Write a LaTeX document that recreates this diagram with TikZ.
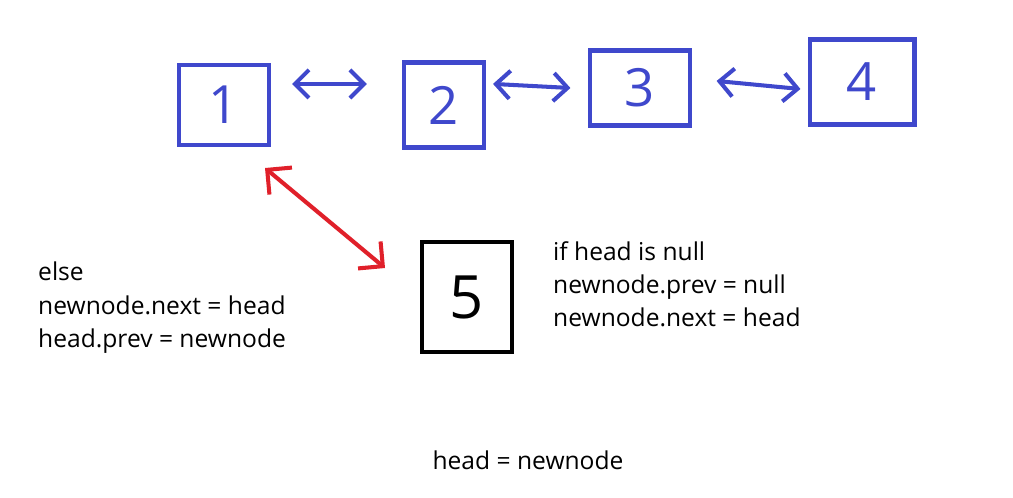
\documentclass[tikz,border=0pt]{standalone}
\usepackage{fontspec}
\setmainfont{Open Sans}
\usetikzlibrary{arrows.meta, positioning}
\definecolor{penblue}{HTML}{3F48CC}
\definecolor{penred}{HTML}{E0202A}
\begin{document}
\begin{tikzpicture}[x=0.02cm, y=-0.02cm,
    cell/.style={draw=penblue, line width=2.3pt, font=\fontsize{30}{30}\selectfont, text=penblue, inner sep=0pt},
    newcell/.style={draw=black, line width=2.5pt, font=\fontsize{34}{34}\selectfont, inner sep=0pt, minimum width=1.8cm, minimum height=2.2cm},
    link/.style={penblue, line width=2.3pt, {Straight Barb[length=8pt]}-{Straight Barb[length=8pt]}},
    code/.style={font=\fontsize{14}{19}\selectfont, align=left, anchor=north west}
]
\useasboundingbox (0,0) rectangle (1013,497);

% linked list
\node[cell, minimum width=1.8cm, minimum height=1.6cm] (n1) at (224,105) {1};
\node[cell, minimum width=1.6cm, minimum height=1.7cm] (n2) at (444,105) {2};
\node[cell, minimum width=2cm, minimum height=1.5cm] (n3) at (640,88) {3};
\node[cell, minimum width=2.1cm, minimum height=1.7cm] (n4) at (862,82) {4};

\draw[link] ([xshift=12pt,yshift=12pt]n1.east) -- ([xshift=-20pt,yshift=12pt]n2.west);
\draw[link] ([xshift=4pt,yshift=12pt]n2.east) -- ([xshift=-10pt,yshift=0pt]n3.west);
\draw[link] ([xshift=14pt,yshift=4pt]n3.east) -- ([xshift=-4pt,yshift=-4pt]n4.west);

% new node
\node[newcell] (n5) at (467,297) {5};
\coordinate (p1) at (265,168);
\coordinate (p5) at (385,268);
\draw[penred, line width=2.3pt, {Straight Barb[length=10pt]}-{Straight Barb[length=10pt]}] (p1) -- (p5);

% notes
\node[code] (elsetxt) at (32,256) {else\\newnode.next = head\\head.prev = newnode};
\node[code] (iftxt) at (547,235) {if head is null\\newnode.prev = null\\newnode.next = head};
\node[font=\fontsize{14}{19}\selectfont] (headtxt) at (528,460) {head = newnode};
\end{tikzpicture}
\end{document}
